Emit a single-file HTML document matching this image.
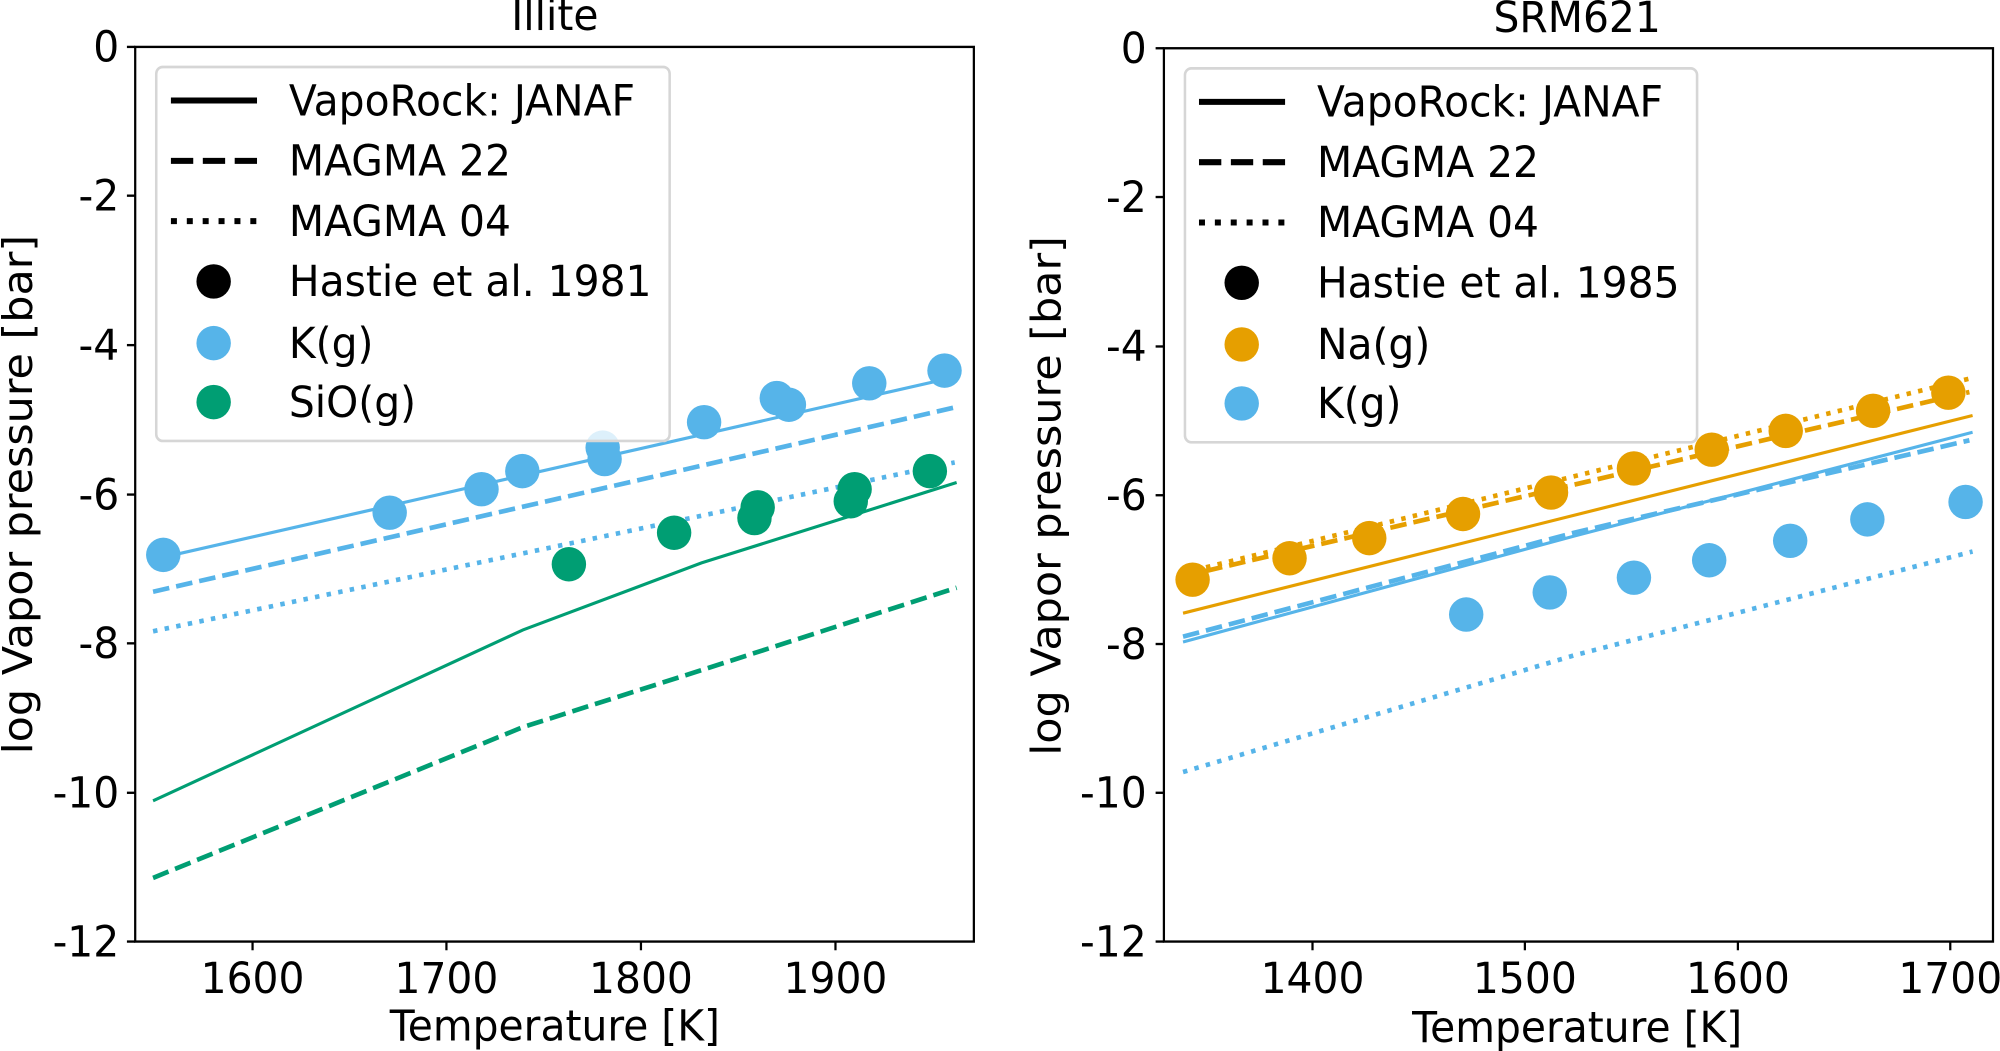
<!DOCTYPE html>
<html><head><meta charset="utf-8"><style>
html,body{margin:0;padding:0;background:#fff;}
svg{display:block;}
text{font-family:"DejaVu Sans","Liberation Sans",sans-serif;fill:#000;}
</style></head><body>
<svg width="2000" height="1051" viewBox="0 0 2000 1051" xmlns="http://www.w3.org/2000/svg">
<!-- LEFT -->
<g transform="scale(0.63776,0.67015)">
  <g fill="none" stroke-linecap="butt">
    <polyline points="240,835 1500,562" stroke="#56B4E9" stroke-width="4.7"/>
    <polyline points="240,883 1497,608" stroke="#56B4E9" stroke-width="7" stroke-dasharray="26,11"/>
    <polyline points="240,942 1497,690" stroke="#56B4E9" stroke-width="7" stroke-dasharray="7,11.5"/>
    <polyline points="240,1195 820,940 1100,840 1500,720" stroke="#009E73" stroke-width="4.7"/>
    <polyline points="240,1310 820,1085 1100,1000 1500,877" stroke="#009E73" stroke-width="7" stroke-dasharray="26,11"/>
  </g>
  <g fill="#56B4E9">
    <ellipse cx="256" cy="828" rx="27" ry="25.7"/><ellipse cx="611" cy="765" rx="27" ry="25.7"/><ellipse cx="755" cy="730" rx="27" ry="25.7"/>
    <ellipse cx="819" cy="703" rx="27" ry="25.7"/><ellipse cx="945" cy="668" rx="27" ry="25.7"/><ellipse cx="948" cy="685" rx="27" ry="25.7"/>
    <ellipse cx="1104" cy="630" rx="27" ry="25.7"/><ellipse cx="1218" cy="594" rx="27" ry="25.7"/><ellipse cx="1237" cy="604" rx="27" ry="25.7"/>
    <ellipse cx="1363" cy="572" rx="27" ry="25.7"/><ellipse cx="1481" cy="553" rx="27" ry="25.7"/>
  </g>
  <g fill="#009E73">
    <ellipse cx="892" cy="842" rx="27" ry="25.7"/><ellipse cx="1057" cy="795" rx="27" ry="25.7"/><ellipse cx="1188" cy="757" rx="27" ry="25.7"/>
    <ellipse cx="1183" cy="773" rx="27" ry="25.7"/><ellipse cx="1340" cy="730" rx="27" ry="25.7"/><ellipse cx="1334" cy="748" rx="27" ry="25.7"/>
    <ellipse cx="1458" cy="703" rx="27" ry="25.7"/>
  </g>
  <rect x="245" y="100" width="805" height="558" rx="10" fill="#fff" fill-opacity="0.8" stroke="#d6d6d6" stroke-width="4"/>
  <g stroke="#000" stroke-width="9">
    <line x1="268" y1="150" x2="403" y2="150"/>
    <line x1="268" y1="240" x2="403" y2="240" stroke-dasharray="35,15"/>
    <line x1="268" y1="330" x2="403" y2="330" stroke-dasharray="9.4,15.5"/>
  </g>
  <ellipse cx="335" cy="420" rx="27" ry="25.7" fill="#000"/>
  <ellipse cx="335" cy="512" rx="27" ry="25.7" fill="#56B4E9"/>
  <ellipse cx="335" cy="600" rx="27" ry="25.7" fill="#009E73"/>
  <g font-size="64">
    <text x="453" y="172">VapoRock: JANAF</text>
    <text x="453" y="262">MAGMA 22</text>
    <text x="453" y="352">MAGMA 04</text>
    <text x="453" y="442">Hastie et al. 1981</text>
    <text x="453" y="534">K(g)</text>
    <text x="453" y="622">SiO(g)</text>
  </g>
  <rect x="212" y="70" width="1315" height="1335" fill="none" stroke="#000" stroke-width="3.5"/>
  <g stroke="#000" stroke-width="3.5">
    <line x1="212" y1="70" x2="199" y2="70"/><line x1="212" y1="292" x2="199" y2="292"/>
    <line x1="212" y1="515" x2="199" y2="515"/><line x1="212" y1="738" x2="199" y2="738"/>
    <line x1="212" y1="960" x2="199" y2="960"/><line x1="212" y1="1183" x2="199" y2="1183"/>
    <line x1="212" y1="1405" x2="199" y2="1405"/>
    <line x1="396" y1="1405" x2="396" y2="1418"/><line x1="700" y1="1405" x2="700" y2="1418"/>
    <line x1="1005" y1="1405" x2="1005" y2="1418"/><line x1="1310" y1="1405" x2="1310" y2="1418"/>
  </g>
  <g font-size="64" text-anchor="end">
    <text x="187" y="92">0</text><text x="187" y="314">-2</text><text x="187" y="537">-4</text>
    <text x="187" y="760">-6</text><text x="187" y="982">-8</text><text x="187" y="1205">-10</text>
    <text x="187" y="1427">-12</text>
  </g>
  <g font-size="64" text-anchor="middle">
    <text x="396" y="1482">1600</text><text x="700" y="1482">1700</text>
    <text x="1005" y="1482">1800</text><text x="1310" y="1482">1900</text>
    <text x="870" y="1553">Temperature [K]</text>
    <text x="870" y="45">Illite</text>
    <text transform="translate(50,738) rotate(-90)">log Vapor pressure [bar]</text>
  </g>
</g>
<!-- RIGHT -->
<g transform="translate(1000,0) scale(0.63776,0.67015)">
  <g fill="none">
    <polyline points="287,855 1520,565" stroke="#E69F00" stroke-width="7" stroke-dasharray="7,11.5"/>
    <polyline points="287,860 1520,585" stroke="#E69F00" stroke-width="7" stroke-dasharray="26,11"/>
    <polyline points="287,915 1525,620" stroke="#E69F00" stroke-width="4.7"/>
    <polyline points="287,958 900,800 1525,645" stroke="#56B4E9" stroke-width="4.7"/>
    <polyline points="287,950 900,795 1520,657" stroke="#56B4E9" stroke-width="7" stroke-dasharray="26,11"/>
    <polyline points="287,1152 900,978 1525,823" stroke="#56B4E9" stroke-width="7" stroke-dasharray="7,11.5"/>
  </g>
  <g fill="#E69F00">
    <ellipse cx="302" cy="865" rx="27" ry="25.7"/><ellipse cx="454" cy="833" rx="27" ry="25.7"/><ellipse cx="579" cy="803" rx="27" ry="25.7"/>
    <ellipse cx="726" cy="767" rx="27" ry="25.7"/><ellipse cx="864" cy="735" rx="27" ry="25.7"/><ellipse cx="994" cy="699" rx="27" ry="25.7"/>
    <ellipse cx="1116" cy="671" rx="27" ry="25.7"/><ellipse cx="1232" cy="643" rx="27" ry="25.7"/><ellipse cx="1369" cy="613" rx="27" ry="25.7"/>
    <ellipse cx="1487" cy="586" rx="27" ry="25.7"/>
  </g>
  <g fill="#56B4E9">
    <ellipse cx="731" cy="917" rx="27" ry="25.7"/><ellipse cx="862" cy="884" rx="27" ry="25.7"/><ellipse cx="994" cy="862" rx="27" ry="25.7"/>
    <ellipse cx="1112" cy="836" rx="27" ry="25.7"/><ellipse cx="1239" cy="807" rx="27" ry="25.7"/><ellipse cx="1360" cy="775" rx="27" ry="25.7"/>
    <ellipse cx="1514" cy="749" rx="27" ry="25.7"/>
  </g>
  <rect x="290" y="102" width="803" height="558" rx="10" fill="#fff" fill-opacity="0.8" stroke="#d6d6d6" stroke-width="4"/>
  <g stroke="#000" stroke-width="9">
    <line x1="312" y1="152" x2="447" y2="152"/>
    <line x1="312" y1="242" x2="447" y2="242" stroke-dasharray="35,15"/>
    <line x1="312" y1="332" x2="447" y2="332" stroke-dasharray="9.4,15.5"/>
  </g>
  <ellipse cx="379" cy="422" rx="27" ry="25.7" fill="#000"/>
  <ellipse cx="379" cy="514" rx="27" ry="25.7" fill="#E69F00"/>
  <ellipse cx="379" cy="602" rx="27" ry="25.7" fill="#56B4E9"/>
  <g font-size="64">
    <text x="497" y="174">VapoRock: JANAF</text>
    <text x="497" y="264">MAGMA 22</text>
    <text x="497" y="354">MAGMA 04</text>
    <text x="497" y="444">Hastie et al. 1985</text>
    <text x="497" y="536">Na(g)</text>
    <text x="497" y="624">K(g)</text>
  </g>
  <rect x="257" y="72" width="1300" height="1333" fill="none" stroke="#000" stroke-width="3.5"/>
  <g stroke="#000" stroke-width="3.5">
    <line x1="257" y1="72" x2="244" y2="72"/><line x1="257" y1="294" x2="244" y2="294"/>
    <line x1="257" y1="517" x2="244" y2="517"/><line x1="257" y1="739" x2="244" y2="739"/>
    <line x1="257" y1="961" x2="244" y2="961"/><line x1="257" y1="1183" x2="244" y2="1183"/>
    <line x1="257" y1="1405" x2="244" y2="1405"/>
    <line x1="490" y1="1405" x2="490" y2="1418"/><line x1="823" y1="1405" x2="823" y2="1418"/>
    <line x1="1157" y1="1405" x2="1157" y2="1418"/><line x1="1490" y1="1405" x2="1490" y2="1418"/>
  </g>
  <g font-size="64" text-anchor="end">
    <text x="230" y="94">0</text><text x="230" y="316">-2</text><text x="230" y="539">-4</text>
    <text x="230" y="761">-6</text><text x="230" y="983">-8</text><text x="230" y="1205">-10</text>
    <text x="230" y="1427">-12</text>
  </g>
  <g font-size="64" text-anchor="middle">
    <text x="490" y="1482">1400</text><text x="823" y="1482">1500</text>
    <text x="1157" y="1482">1600</text><text x="1490" y="1482">1700</text>
    <text x="905" y="1555">Temperature [K]</text>
    <text x="905" y="48">SRM621</text>
    <text transform="translate(95,740) rotate(-90)">log Vapor pressure [bar]</text>
  </g>
</g>
</svg>
</body></html>
